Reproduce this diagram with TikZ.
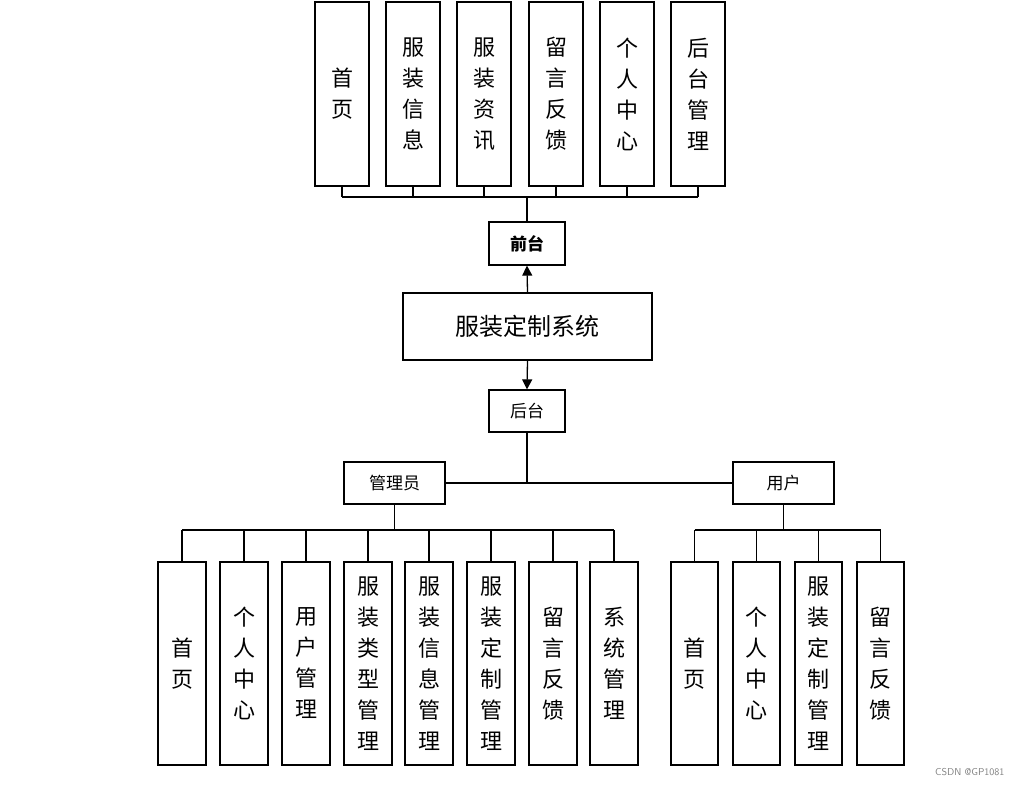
\documentclass[tikz,border=0pt]{standalone}
\usepackage{fontspec}
\newfontfamily\cjk{Noto Sans CJK SC}
\usetikzlibrary{arrows.meta}
\begin{document}
\begin{tikzpicture}[x=1pt,y=-1pt,
  box/.style={draw,line width=1.3pt,inner sep=0pt,font=\cjk\fontsize{22}{31}\selectfont,align=center},
  ln/.style={line width=1.3pt},
  arr/.style={line width=1.3pt,-{Triangle[length=10pt,width=10pt]}}]
\useasboundingbox (0,0) rectangle (1020,787);
% top boxes
\foreach \n/\x/\t in {t1/342/首\\页,t2/413/服\\装\\信\\息,t3/484/服\\装\\资\\讯,t4/556/留\\言\\反\\馈,t5/627/个\\人\\中\\心,t6/698/后\\台\\管\\理}{
  \node[box,minimum width=54pt,minimum height=184pt] (\n) at (\x,94) {\t};
  \draw[ln] (\n.south) -- (\x,197);
}
\draw[ln] (342,197) -- (698,197);
\node[box,minimum width=76pt,minimum height=43pt,font=\cjk\bfseries\fontsize{17}{20}\selectfont] (ft) at (527,243.5) {前台};
\draw[ln] (527,197) -- (ft.north);
\node[box,minimum width=249pt,minimum height=67pt,font=\cjk\fontsize{24}{28}\selectfont] (m) at (527.5,326.5) {服装定制系统};
\draw[arr] (m.north) -- (ft.south);
\node[box,minimum width=76pt,minimum height=42pt,font=\cjk\fontsize{17}{20}\selectfont] (bt) at (527,411) {后台};
\draw[arr] (m.south) -- (bt.north);
\node[box,minimum width=101pt,minimum height=42pt,font=\cjk\fontsize{17}{20}\selectfont] (ad) at (394.5,483) {管理员};
\node[box,minimum width=101pt,minimum height=42pt,font=\cjk\fontsize{17}{20}\selectfont] (us) at (783.5,483) {用户};
\coordinate (j) at (527,483);
\draw[ln] (bt.south) -- (j);
\draw[ln] (ad.east) -- (us.west);
% admin children
\draw[ln] (394.5,504) -- (394.5,530);
\draw[ln] (182,530) -- (614,530);
\foreach \n/\x/\t in {a1/182/首\\页,a2/244/个\\人\\中\\心,a3/306/用\\户\\管\\理,a4/368/服\\装\\类\\型\\管\\理,a5/429/服\\装\\信\\息\\管\\理,a6/491/服\\装\\定\\制\\管\\理,a7/553/留\\言\\反\\馈,a8/614/系\\统\\管\\理}{
  \node[box,minimum width=48pt,minimum height=203pt] (\n) at (\x,663.5) {\t};
  \draw[ln] (\x,530) -- (\n.north);
}
\draw[ln] (783.5,504) -- (783.5,530);
\draw[ln] (694.5,530) -- (880.5,530);
\foreach \n/\x/\t in {u1/694.5/首\\页,u2/756.5/个\\人\\中\\心,u3/818.5/服\\装\\定\\制\\管\\理,u4/880.5/留\\言\\反\\馈}{
  \node[box,minimum width=47pt,minimum height=203pt] (\n) at (\x,663.5) {\t};
  \draw[ln] (\x,530) -- (\n.north);
}
\node[text=gray,font=\sffamily\fontsize{10}{12}\selectfont,anchor=east] (wm) at (1008,772) {CSDN @GP1081};
\end{tikzpicture}
\end{document}
